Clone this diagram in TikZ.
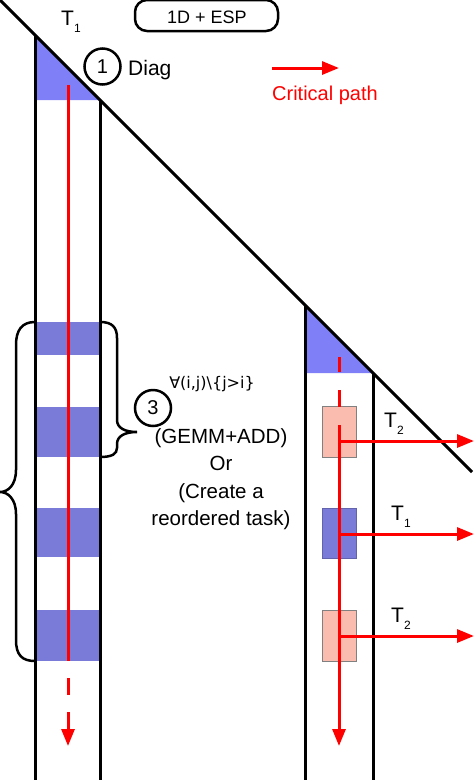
\documentclass[tikz,border=0pt]{standalone}
\usepackage{fontspec}
\setmainfont{Liberation Sans}
\newfontfamily\dejavu{DejaVu Sans}
\usetikzlibrary{arrows.meta}
\definecolor{triblue}{HTML}{7F7FF8}
\definecolor{blkblue}{HTML}{7A7AD8}
\definecolor{pinkbox}{HTML}{FBBCB0}
\definecolor{critred}{HTML}{FF0000}
\tikzset{
  blackline/.style={black, line width=3pt},
  critline/.style={critred, line width=3pt},
  critarrow/.style={critred, line width=3pt, -{Triangle[length=17pt,width=13pt]}},
  bracestyle/.style={black, line width=2.5pt},
  numcircle/.style={circle, draw=black, line width=2.5pt, minimum size=36pt, inner sep=0pt, font=\fontsize{20}{24}\selectfont},
  lbl/.style={inner sep=0pt, anchor=base, font=\fontsize{20.5}{24}\selectfont},
  tlbl/.style={inner sep=0pt, anchor=base west, font=\fontsize{21}{24}\selectfont},
}
\newcommand{\Tsub}[1]{T\raisebox{-7pt}{\fontsize{12}{12}\selectfont #1}}
\begin{document}
\begin{tikzpicture}[x=1pt,y=-1pt]
\useasboundingbox (0,0) rectangle (474,780);
% fills
\fill[triblue] (35,35) -- (100,100) -- (35,100) -- cycle;
\fill[triblue] (305,305) -- (373,373) -- (305,373) -- cycle;
\foreach \a/\b in {322/355, 407/457, 508/557, 610/661}
  \fill[blkblue] (35,\a) rectangle (100,\b);
\draw[fill=pinkbox, draw=gray, line width=1pt] (322,406) rectangle (356,457);
\draw[fill=blkblue, draw=blkblue!80!black, line width=1pt] (322,508) rectangle (356,558);
\draw[fill=pinkbox, draw=gray, line width=1pt] (322,610) rectangle (356,661);
% structure lines
\draw[blackline] (0,0) -- (472,472);
\draw[blackline] (35,35) -- (35,782);
\draw[blackline] (100,100) -- (100,782);
\draw[blackline] (305,305) -- (305,782);
\draw[blackline] (373,373) -- (373,782);
% braces
\draw[bracestyle] (35,322) .. controls (22,322) and (16,330) .. (16,345) -- (16,470)
   .. controls (16,485) and (8,492) .. (0,492) .. controls (8,492) and (16,499) .. (16,514)
   -- (16,640) .. controls (16,655) and (22,661) .. (35,661);
\draw[bracestyle] (100,322) .. controls (112,322) and (117,327) .. (117,338) -- (117,420)
   .. controls (117,428) and (125,432) .. (137,432) .. controls (125,432) and (117,436) .. (117,444)
   -- (117,448) .. controls (117,454) and (112,457) .. (100,457);
% left critical path
\coordinate (l0) at (68,85);
\coordinate (l1) at (68,661);
\coordinate (l2) at (68,678);
\coordinate (l3) at (68,695);
\coordinate (l4) at (68,712);
\coordinate (l5) at (68,746);
\draw[critline] (l0) -- (l1);
\draw[critline] (l2) -- (l3);
\draw[critarrow] (l4) -- (l5);
% right critical path
\coordinate (r0) at (339,357);
\coordinate (r1) at (339,372);
\coordinate (r2) at (339,390);
\coordinate (r3) at (339,407);
\coordinate (r4) at (339,425);
\coordinate (r5) at (339,746);
\draw[critline] (r0) -- (r1);
\draw[critline] (r2) -- (r3);
\draw[critarrow] (r4) -- (r5);
\coordinate (h1a) at (339,441); \coordinate (h1b) at (474,441);
\coordinate (h2a) at (339,534); \coordinate (h2b) at (474,534);
\coordinate (h3a) at (339,636); \coordinate (h3b) at (474,636);
\draw[critarrow] (h1a) -- (h1b);
\draw[critarrow] (h2a) -- (h2b);
\draw[critarrow] (h3a) -- (h3b);
% legend
\coordinate (lega) at (272,68);
\coordinate (legb) at (339,68);
\draw[critarrow] (lega) -- (legb);
\node[inner sep=0pt, anchor=base west, text=critred, font=\fontsize{20}{24}\selectfont] (crit) at (272,100) {Critical path};
% title box
\draw[black, line width=2.5pt, rounded corners=12pt] (135,0) rectangle (278,31);
\node[inner sep=0pt, anchor=base, font=\fontsize{18}{22}\selectfont] (title) at (207,23) {1D + ESP};
% circles and labels
\node[numcircle] (c1) at (102.5,66.5) {1};
\node[tlbl] (diag) at (128,75) {Diag};
\node[numcircle] (c3) at (153,408) {3};
\node[lbl, font=\dejavu\fontsize{16}{20}\selectfont] (forall) at (212,388) {∀(i,j)\textbackslash\{j>i\}};
\node[lbl] (gemm) at (221,443) {(GEMM+ADD)};
\node[lbl] (or) at (221,470) {Or};
\node[lbl] (create) at (221,498) {(Create a};
\node[lbl] (reord) at (221,525) {reordered task)};
% T labels
\node[tlbl] (t1top) at (61,25) {\Tsub{1}};
\node[tlbl] (t2a) at (384,427) {\Tsub{2}};
\node[tlbl] (t1b) at (391,520) {\Tsub{1}};
\node[tlbl] (t2b) at (391,622) {\Tsub{2}};
\end{tikzpicture}
\end{document}
